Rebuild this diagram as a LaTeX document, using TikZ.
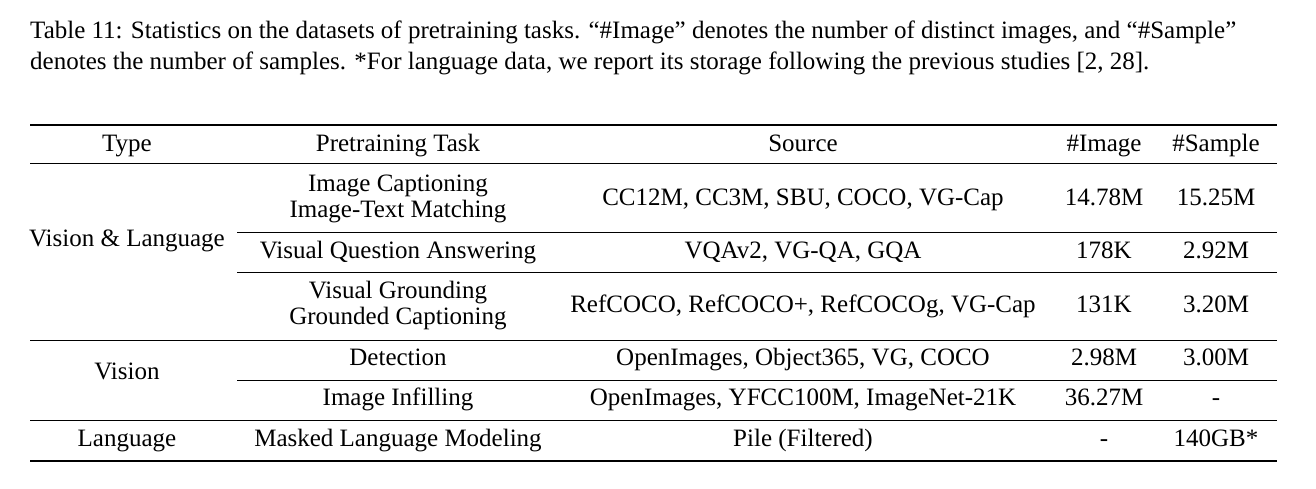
\documentclass[tikz,border=0pt]{standalone}
\usepackage{fontspec}
\setmainfont{Liberation Serif}
\begin{document}
\begin{tikzpicture}[x=1pt,y=-1pt,cell/.style={font=\fontsize{25}{26}\selectfont,align=center,inner sep=0pt},one/.style={cell,text height=17pt,text depth=5pt},rule/.style={line width=1.6pt},thin rule/.style={line width=0.8pt}]
  	\useasboundingbox (0,0) rectangle (1316,488);
  	% caption
  	\node[cell,anchor=base west,text width=1252pt,align=justify] at (30,38) (cap1) {Table 11: Statistics on the datasets of pretraining tasks. ``\#Image'' denotes the number of distinct images, and ``\#Sample''\hfill\null};
  	\node[cell,anchor=base west] at (30,69) (cap2) {denotes the number of samples. *For language data, we report its storage following the previous studies [2, 28].};
  	
  	% header
  	\node[one] at (127,145) (type) {Type};
  	\node[one] at (398,145) (task) {Pretraining Task};
  	\node[one] at (803,145) (source) {Source};
  	\node[one] at (1104,145) (nimg) {\#Image};
  	\node[one] at (1216,145) (nsmp) {\#Sample};
  	
  	% vision & language
  	\node[one] at (127,240) (vl) {Vision \& Language};
  	\node[cell] at (398,199) (t1) {Image Captioning\\Image-Text Matching};
  	\node[one] at (803,199) (s1) {CC12M, CC3M, SBU, COCO, VG-Cap};
  	\node[one] at (1104,199) (i1) {14.78M};
  	\node[one] at (1216,199) (n1) {15.25M};
  	
  	\node[one] at (398,252) (t2) {Visual Question Answering};
  	\node[one] at (803,252) (s2) {VQAv2, VG-QA, GQA};
  	\node[one] at (1104,252) (i2) {178K};
  	\node[one] at (1216,252) (n2) {2.92M};
  	
  	\node[cell] at (398,306) (t3) {Visual Grounding\\Grounded Captioning};
  	\node[one] at (803,306) (s3) {RefCOCO, RefCOCO+, RefCOCOg, VG-Cap};
  	\node[one] at (1104,306) (i3) {131K};
  	\node[one] at (1216,306) (n3) {3.20M};
  	
  	% vision
  	\node[one] at (127,373) (v) {Vision};
  	\node[one] at (398,359) (t4) {Detection};
  	\node[one] at (803,359) (s4) {OpenImages, Object365, VG, COCO};
  	\node[one] at (1104,359) (i4) {2.98M};
  	\node[one] at (1216,359) (n4) {3.00M};
  	
  	\node[one] at (398,399) (t5) {Image Infilling};
  	\node[one] at (803,399) (s5) {OpenImages, YFCC100M, ImageNet-21K};
  	\node[one] at (1104,399) (i5) {36.27M};
  	\node[one] at (1216,399) (n5) {-};
  	
  	% language
  	\node[one] at (127,440) (l) {Language};
  	\node[one] at (398,440) (t6) {Masked Language Modeling};
  	\node[one] at (803,440) (s6) {Pile (Filtered)};
  	\node[one] at (1104,440) (i6) {-};
  	\node[one] at (1216,440) (n6) {140GB*};
  	
  	% rules
  	\draw[rule] (30,125) -- (1277,125);
  	\draw[thin rule] (30,163) -- (1277,163);
  	\draw[thin rule] (237,232) -- (1277,232);
  	\draw[thin rule] (237,272) -- (1277,272);
  	\draw[thin rule] (30,340) -- (1277,340);
  	\draw[thin rule] (237,380) -- (1277,380);
  	\draw[thin rule] (30,420) -- (1277,420);
  	\draw[rule] (30,461) -- (1277,461);
\end{tikzpicture}
\end{document}
